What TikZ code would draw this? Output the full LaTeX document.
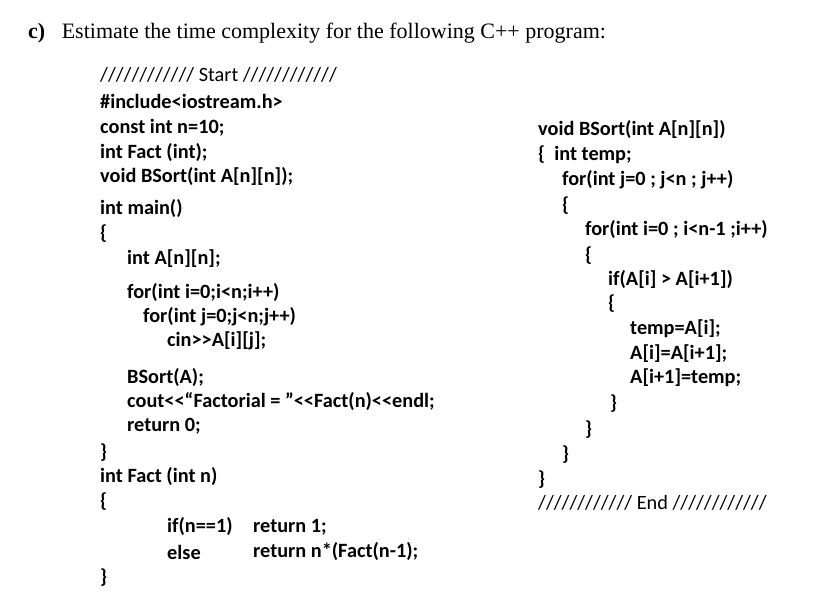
\documentclass[tikz,border=0pt]{standalone}
\usepackage{fontspec}
\setmainfont[Ligatures=TeXOff]{Carlito}
\newfontfamily\titlefont{Liberation Serif}
\begin{document}
\begin{tikzpicture}[x=1pt,y=-1pt]
\tikzset{code/.style={anchor=west,inner sep=0pt,font=\fontsize{20.3}{22}\selectfont\bfseries}}
\useasboundingbox (0,0) rectangle (838,609);
\fill[white] (0,0) rectangle (838,609);
\node[anchor=west,inner sep=0pt,font=\fontsize{22}{24}\selectfont\titlefont] (t) at (28,33) {\textbf{c)}\hspace{0.75em}Estimate the time complexity for the following C++ program:};
\node[code,font=\fontsize{20.3}{22}\selectfont] (a0) at (100,75) {//////////// Start ////////////};
\node[code] (a1) at (100,101) {\#include<iostream.h>};
\node[code] (a2) at (100,128) {const int n=10;};
\node[code] (a3) at (100,153) {int Fact (int);};
\node[code] (a4) at (100,177) {void BSort(int A[n][n]);};
\node[code] (a5) at (100,209) {int main()};
\node[code] (a6) at (100,234) {\{};
\node[code] (a7) at (127,259) {int A[n][n];};
\node[code] (a8) at (127,293) {for(int i=0;i<n;i++)};
\node[code] (a9) at (143,317) {for(int j=0;j<n;j++)};
\node[code] (a10) at (167,341) {cin>>A[i][j];};
\node[code] (a11) at (127,378) {BSort(A);};
\node[code] (a12) at (127,402) {cout<<“Factorial = ”<<Fact(n)<<endl;};
\node[code] (a13) at (127,426) {return 0;};
\node[code] (a14) at (100,453) {\}};
\node[code] (a15) at (100,477) {int Fact (int n)};
\node[code] (a16) at (100,502) {\{};
\node[code] (a17) at (167,527) {if(n==1)};
\node[code] (a18) at (253,527) {return 1;};
\node[code] (a19) at (167,552) {else};
\node[code] (a20) at (253,552) {return n*(Fact(n-1);};
\node[code] (a21) at (100,578) {\}};
\node[code] (b1) at (538,130) {void BSort(int A[n][n])};
\node[code] (b2) at (538,155) {\{\ \ int temp;};
\node[code] (b3) at (562,180) {for(int j=0 ; j<n ; j++)};
\node[code] (b4) at (562,206) {\{};
\node[code] (b5) at (585,230) {for(int i=0 ; i<n-1 ;i++)};
\node[code] (b6) at (585,256) {\{};
\node[code] (b7) at (608,280) {if(A[i] > A[i+1])};
\node[code] (b8) at (608,304) {\{};
\node[code] (b9) at (630,329) {temp=A[i];};
\node[code] (b10) at (630,354) {A[i]=A[i+1];};
\node[code] (b11) at (630,378) {A[i+1]=temp;};
\node[code] (b12) at (610,404) {\}};
\node[code] (b13) at (585,430) {\}};
\node[code] (b14) at (562,455) {\}};
\node[code] (b15) at (538,480) {\}};
\node[code,font=\fontsize{20.3}{22}\selectfont] (b16) at (538,503) {//////////// End ////////////};
\end{tikzpicture}
\end{document}
